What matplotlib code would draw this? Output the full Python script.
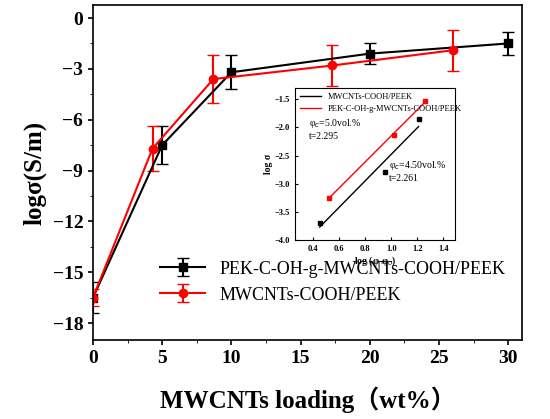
import numpy as np
import matplotlib
matplotlib.use("Agg")
from matplotlib import pyplot as plt
from matplotlib.ticker import AutoMinorLocator

plt.rcParams['font.family'] = ['Liberation Serif', 'DejaVu Serif']

x_peek = [0, 5, 10, 20, 30]
y_peek = [-16.5, -7.5, -3.2, -2.1, -1.5]
e_peek = [0.9, 1.1, 1.0, 0.6, 0.7]
x_mw = [0, 4.3, 8.7, 17.3, 26]
y_mw = [-16.5, -7.7, -3.6, -2.8, -1.9]
e_mw = [0.5, 1.3, 1.4, 1.2, 1.2]

ix_mw = [0.45, 0.95, 1.21]
iy_mw = [-3.7, -2.8, -1.85]
ix_peek = [0.52, 1.02, 1.26]
iy_peek = [-3.25, -2.13, -1.53]

fig = plt.figure(figsize=(5.5, 4.19), dpi=100)
ax = fig.add_axes([93/550, 1-340/419, 429/550, 335/419])
ax.errorbar(x_peek, y_peek, yerr=e_peek, color='black', marker='s', ms=6, lw=1.5, capsize=4,
            label='PEK-C-OH-g-MWCNTs-COOH/PEEK')
ax.errorbar(x_mw, y_mw, yerr=e_mw, color='red', marker='o', ms=6, lw=1.5, capsize=4,
            label='MWCNTs-COOH/PEEK')
ax.set_xlim(0, 31)
ax.set_ylim(-19.0, 0.77)
ax.set_xticks([0, 5, 10, 15, 20, 25, 30])
ax.set_yticks([0, -3, -6, -9, -12, -15, -18])
ax.xaxis.set_minor_locator(AutoMinorLocator(2))
ax.yaxis.set_minor_locator(AutoMinorLocator(2))
ax.tick_params(labelsize=14, direction='out', width=1.2)
for lab in ax.get_xticklabels() + ax.get_yticklabels():
    lab.set_fontweight('bold')
for s in ax.spines.values():
    s.set_linewidth(1.2)
ax.set_xlabel('MWCNTs loading（wt%）', fontsize=18, fontweight='bold', labelpad=14,
              family=['Liberation Serif', 'Noto Sans CJK SC'])
ax.set_ylabel('logσ(S/m)', fontsize=18, fontweight='bold')
ax.legend(loc='lower right', bbox_to_anchor=(1.0, 0.06), frameon=False, fontsize=13,
          handlelength=2.5)

ins = fig.add_axes([295/550, 1-240/419, 160/550, 152/419])
for xs, ys, c in [(ix_mw, iy_mw, 'black'), (ix_peek, iy_peek, 'red')]:
    p = np.polyfit(xs, ys, 1)
    ins.plot(xs, ys, 's', color=c, ms=3)
    xx = np.array([xs[0], xs[-1]])
    ins.plot(xx, np.polyval(p, xx), color=c, lw=1)
ins.plot([], [], color='black', lw=1, label='MWCNTs-COOH/PEEK')
ins.plot([], [], color='red', lw=1, label='PEK-C-OH-g-MWCNTs-COOH/PEEK')
ins.legend(loc='upper left', frameon=False, fontsize=6, handlelength=2.5, borderaxespad=0.2)
ins.set_xlim(0.26, 1.49)
ins.set_ylim(-4.0, -1.3)
ins.set_xticks([0.4, 0.6, 0.8, 1.0, 1.2, 1.4])
ins.set_yticks([-4.0, -3.5, -3.0, -2.5, -2.0, -1.5])
ins.tick_params(labelsize=6, direction='in', length=2)
for lab in ins.get_xticklabels() + ins.get_yticklabels():
    lab.set_fontweight('bold')
ins.set_xlabel('log (φ-φ$_c$)', fontsize=7, fontweight='bold', labelpad=1)
ins.set_ylabel('log σ', fontsize=7, fontweight='bold', labelpad=1)
ins.text(0.37, -2.2, 'φ$_c$=5.0vol.%\nt=2.295', fontsize=7)
ins.text(0.98, -2.95, 'φ$_c$=4.50vol.%\nt=2.261', fontsize=7)

fig.savefig('out.png', dpi=100)
